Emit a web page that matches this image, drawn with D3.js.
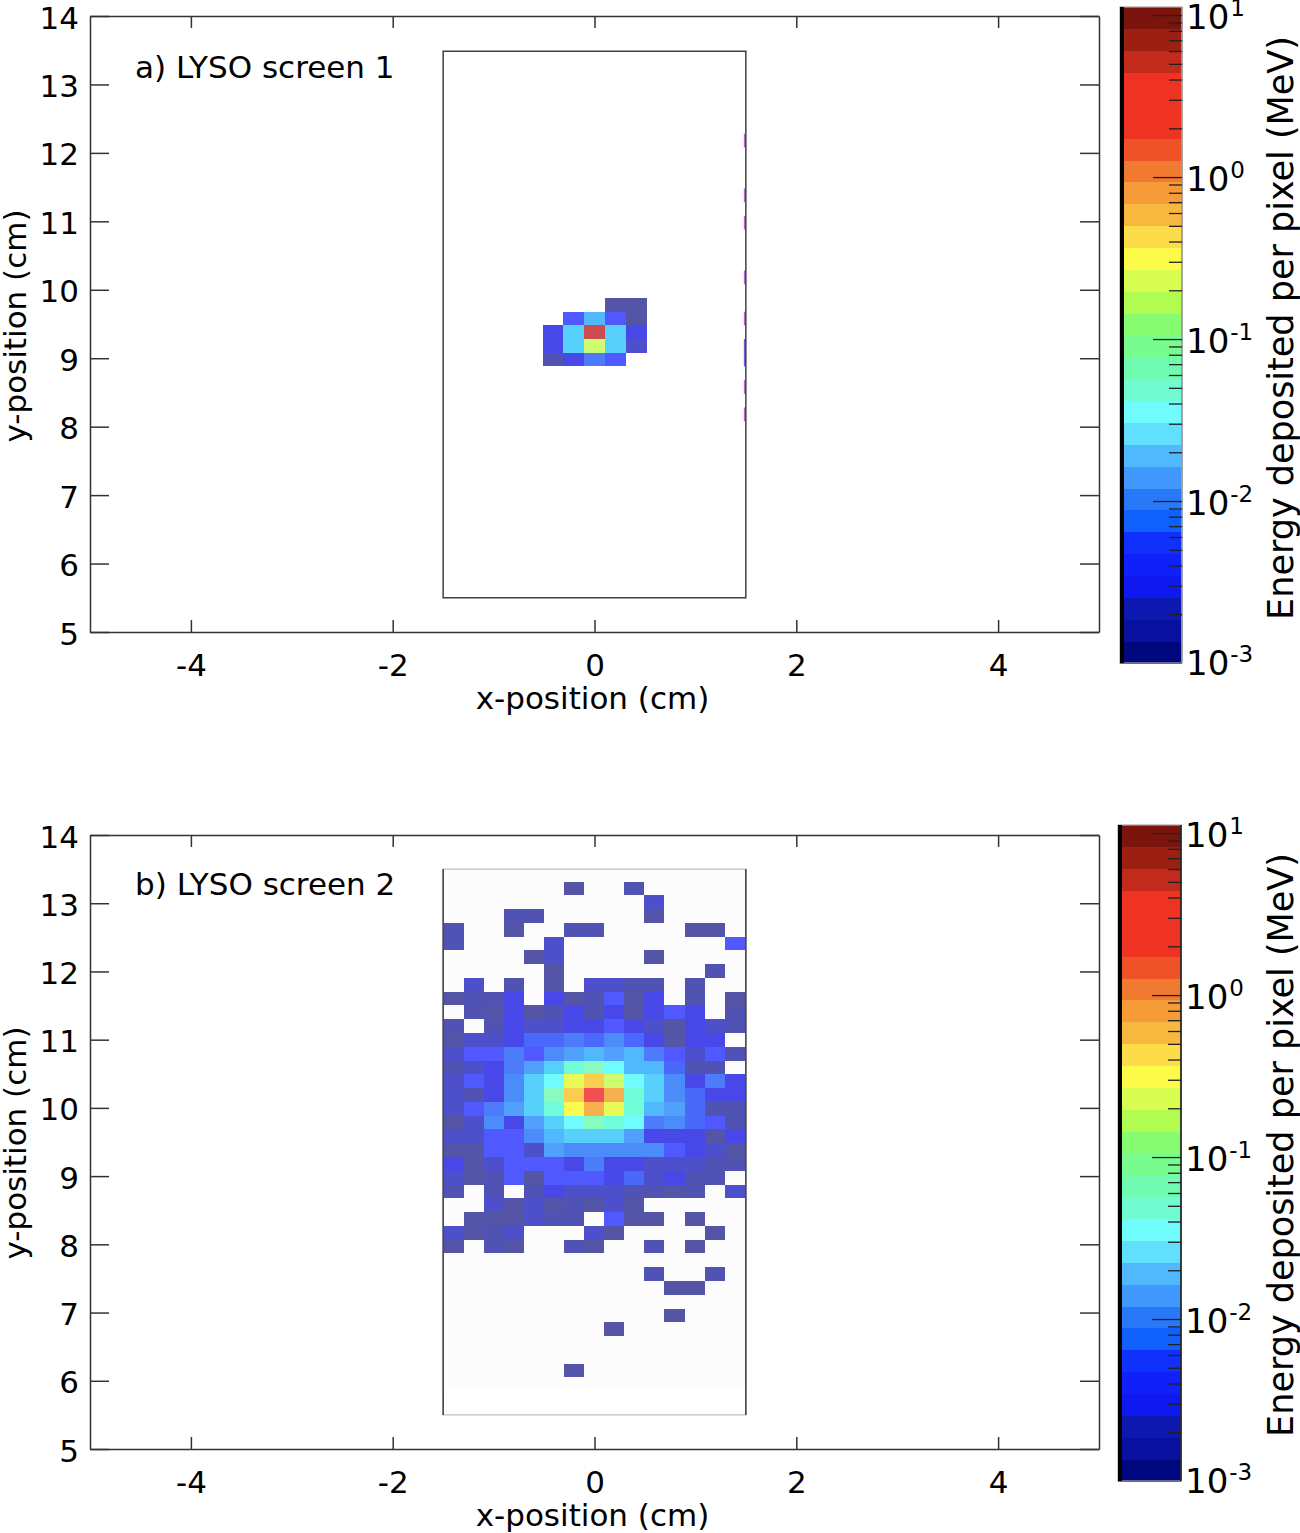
<!DOCTYPE html>
<html>
<head>
<meta charset="utf-8">
<title>LYSO screens</title>
<script src="https://cdn.jsdelivr.net/npm/d3@7"></script>
<style>
	html, body { margin: 0; padding: 0; background: #fff; }
	svg { display: block; }
	text { font-family: "DejaVu Sans", sans-serif; fill: #000; }
	.axis path, .axis line { stroke: #333; stroke-width: 1.5; }
	.axis text { font-size: 31px; font-family: "DejaVu Sans", sans-serif; }
</style>
</head>
<body>
<div id="chart"></div>
<script>
//////////////////////////////
// DATA
//////////////////////////////

const xTicks = [-4, -2, 0, 2, 4]
const yTicks = [5, 6, 7, 8, 9, 10, 11, 12, 13, 14]
const barDecades = [1, 0, -1, -2, -3]

// colour bands of the bar, from 10^-3 upwards
const barColors = ["#000880", "#0810a0", "#0c18b0", "#1018f0", "#1020f8", "#1030fc", "#1060fc", "#2878f8", "#4098fc", "#50b8fc",
	"#60e0fc", "#70fcfc", "#70fcd0", "#70fcb0", "#78fc90", "#88fc70", "#b0fc50", "#d8fc50", "#fcfc48", "#fcdc48",
	"#f8b840", "#f59c38", "#f07a30", "#f05228", "#ee3322", "#ee3322", "#ee3322", "#c22a1c", "#9c2012", "#7a140c"]

// same bands as they come out on the screen pixels (washed out)
const cellColors = ["#5455a6", "#5053b4", "#4d4fcb", "#4848e8", "#5058ff", "#4a68fa", "#4c7cfa", "#4c8cfa", "#50a0fc", "#50b8fc",
	"#58d0fc", "#70fcfc", "#70fcd8", "#88fcc0", "#90fc90", "#a8fc80", "#ccfc70", "#e8fa58", "#fcfc50", "#fadc50",
	"#facc50", "#f6b050", "#f49040", "#f07038", "#f06050", "#f05050", "#e04c50", "#cc4d4f", "#a03020", "#7a140c"]

// energy per pixel in MeV, one row per list, 15 columns
const _ = 0, D = .00117, d = .0016, m = .0022, b = .003, B = .004

const screen1Rows = [18, 19, 20, 21, 22]
const screen1Cols = [5, 6, 7, 8, 9]
const screen1 = [
	[_, _, _, D, D],
	[_, B, .019, B, D],
	[b, .03, 5.2, .03, b],
	[b, .026, .169, .026, m],
	[d, b, .0075, B, _]
]
const screen1EdgeRows = [6, 10, 12, 16, 19, 21, 22, 24, 26]

const screen2 = [
	[_, _, _, _, _, _, _, _, _, _, _, _, _, _, _],
	[_, _, _, _, _, _, D, _, _, d, _, _, _, _, _],
	[_, _, _, _, _, _, _, _, _, _, m, _, _, _, _],
	[_, _, _, d, d, _, _, _, _, _, D, _, _, _, _],
	[d, _, _, D, _, _, d, d, _, _, _, _, D, D, _],
	[d, _, _, _, _, m, _, _, _, _, _, _, _, _, B],
	[_, _, _, _, D, m, _, _, _, _, D, _, _, _, _],
	[_, _, _, _, _, D, _, _, _, _, _, _, _, d, _],
	[_, m, _, d, _, D, _, m, m, d, d, _, d, _, _],
	[D, d, d, b, _, b, D, d, B, D, b, _, d, _, D],
	[_, d, D, b, D, d, b, d, b, D, b, B, b, _, d],
	[d, _, d, b, m, m, b, b, B, b, m, D, b, m, d],
	[D, m, m, b, .0055, .0055, .0075, .0055, .0103, .0055, b, D, b, b, _],
	[m, B, B, .0075, B, .0103, .014, .019, .014, .019, .0075, B, m, B, d],
	[d, m, b, .0075, .014, .026, .049, .066, .036, .019, .019, .0055, d, d, _],
	[m, B, b, .0103, .026, .036, .23, .59, .169, .036, .026, .0103, b, .0075, b],
	[m, d, b, .0103, .026, .066, .59, 2.8, .8, .049, .026, .0103, .0055, b, b],
	[m, B, .0075, .014, .026, .049, .31, .8, .23, .049, .019, .014, .0055, d, d],
	[D, m, .0103, b, .014, .026, .036, .066, .049, .036, .0075, .0103, .0055, B, d],
	[m, m, B, B, .0103, .019, .026, .026, .026, .014, b, b, b, D, b],
	[D, D, B, B, m, .014, .0103, .0103, .0103, .0103, .0103, B, b, m, D],
	[b, D, m, B, B, B, b, .0075, b, b, m, m, m, d, d],
	[m, D, d, B, D, B, B, B, b, .0055, m, b, d, d, _],
	[d, _, d, _, d, b, m, m, m, d, d, D, d, _, m],
	[_, _, m, D, m, D, d, D, m, D, _, _, _, _, _],
	[_, D, D, D, m, d, d, _, B, D, D, _, D, _, _],
	[m, D, d, m, _, _, _, m, D, _, _, _, _, D, _],
	[D, _, d, D, _, _, d, D, _, _, d, _, D, _, _],
	[_, _, _, _, _, _, _, _, _, _, _, _, _, _, _],
	[_, _, _, _, _, _, _, _, _, _, d, _, _, d, _],
	[_, _, _, _, _, _, _, _, _, _, _, D, D, _, _],
	[_, _, _, _, _, _, _, _, _, _, _, _, _, _, _],
	[_, _, _, _, _, _, _, _, _, _, _, D, _, _, _],
	[_, _, _, _, _, _, _, _, D, _, _, _, _, _, _],
	[_, _, _, _, _, _, _, _, _, _, _, _, _, _, _],
	[_, _, _, _, _, _, _, _, _, _, _, _, _, _, _],
	[_, _, _, _, _, _, D, _, _, _, _, _, _, _, _]
]

//////////////////////////////
// PANELS
//////////////////////////////

const width = 1300
const height = 1533
const logMin = -3
const logMax = 1.05

const svg = d3.select("#chart").append("svg").attr("width", width).attr("height", height)

const bandIndex = d3.scaleQuantize().domain([logMin, logMax]).range(d3.range(barColors.length))
const cellFill = (v) => cellColors[bandIndex(Math.log10(v))]

// plain hyphen on the labels, like the original
const plainFormat = (d) => String(d)

const drawAxes = (g, x, y, top, bottom, left, right) => {
	g.append("g").attr("class", "axis").attr("transform", "translate(0," + bottom + ")")
		.call(d3.axisBottom(x).tickValues(xTicks).tickSizeInner(-12).tickSizeOuter(0).tickPadding(22).tickFormat(plainFormat))
	g.append("g").attr("class", "axis").attr("transform", "translate(0," + top + ")")
		.call(d3.axisTop(x).tickValues(xTicks).tickSizeInner(-12).tickSizeOuter(0).tickFormat(""))
	g.append("g").attr("class", "axis").attr("transform", "translate(" + left + ",0)")
		.call(d3.axisLeft(y).tickValues(yTicks).tickSizeInner(-19).tickSizeOuter(0).tickPadding(11).tickFormat(plainFormat))
		.call((a) => a.selectAll("text").attr("dy", ".39em"))
	g.append("g").attr("class", "axis").attr("transform", "translate(" + right + ",0)")
		.call(d3.axisRight(y).tickValues(yTicks).tickSizeInner(-19).tickSizeOuter(0).tickFormat(""))
}

const drawBar = (g, p) => {
	let logY = d3.scaleLinear().domain([logMin, logMax]).range([p.barBottom, p.barTop])
	let step = (logMax - logMin) / barColors.length
	g.selectAll("rect.band").data(barColors).enter().append("rect").attr("class", "band")
		.attr("x", p.barLeft).attr("width", p.barRight - p.barLeft)
		.attr("y", (d, i) => logY(logMin + (i + 1) * step))
		.attr("height", logY(logMin) - logY(logMin + step) + .5)
		.attr("fill", (d) => d)
		.attr("shape-rendering", "crispEdges")

	g.append("rect").attr("x", p.barLeft).attr("y", p.barTop).attr("width", p.barRight - p.barLeft).attr("height", p.barBottom - p.barTop)
		.attr("fill", "none").attr("stroke", "#aaa").attr("stroke-width", 1.2)
	g.append("line").attr("x1", p.barLeft + 2).attr("x2", p.barLeft + 2).attr("y1", p.barTop).attr("y2", p.barBottom)
		.attr("stroke", "#000").attr("stroke-width", 4)
	g.append("line").attr("x1", p.barRight).attr("x2", p.barRight).attr("y1", p.barTop).attr("y2", p.barBottom)
		.attr("stroke", p.barEdge).attr("stroke-width", 1.5)

	let scale = d3.scaleLog().domain([1e-3, Math.pow(10, logMax)]).range([p.barBottom, p.barTop])
	let minor = []
	barDecades.slice(1).forEach((e) => {
		d3.range(2, 10).forEach((k) => minor.push(k * Math.pow(10, e)))
	})
	let major = barDecades.map((e) => Math.pow(10, e))

	g.append("g").attr("transform", "translate(" + p.barRight + ",0)")
		.call(d3.axisLeft(scale).tickValues(minor).tickSize(13).tickFormat(""))
		.call((a) => a.select(".domain").remove())
		.call((a) => a.selectAll("line").attr("stroke", "#222").attr("stroke-width", 1.3))
	g.append("g").attr("transform", "translate(" + p.barRight + ",0)")
		.call(d3.axisLeft(scale).tickValues(major.slice(0, 4)).tickSize(29).tickFormat(""))
		.call((a) => a.select(".domain").remove())
		.call((a) => a.selectAll("line").attr("stroke", "#222").attr("stroke-width", 1.3))

	let labels = g.selectAll("text.decade").data(barDecades).enter().append("text").attr("class", "decade")
		.attr("x", p.barRight + 4)
		.attr("y", (d) => Math.min(scale(Math.pow(10, d)) + 14, p.barBottom + 12))
		.attr("font-size", 34)
	labels.append("tspan").text("10")
	labels.append("tspan").attr("dx", 1).attr("dy", -13).attr("font-size", 23).text((d) => d)

	g.append("text").attr("transform", "translate(1293," + p.titleY + ") rotate(-90)")
		.attr("text-anchor", "middle").attr("font-size", 35).text("Energy deposited per pixel (MeV)")
}

const drawPanel = (p) => {
	let g = svg.append("g")
	let x = d3.scaleLinear().domain([-5, 5]).range([90, 1099])
	let y = d3.scaleLinear().domain([5, 14]).range([p.bottom, p.top])

	if (p.faintTo) {
		g.append("rect").attr("x", x(-1.5)).attr("width", x(1.5) - x(-1.5))
			.attr("y", y(p.screenTop)).attr("height", y(p.faintTo) - y(p.screenTop)).attr("fill", "#fcfcfc")
	}

	let cells = []
	p.grid.forEach((r, i) => {
		r.forEach((v, j) => {
			if (v > 0) cells.push({ row: p.rowOf(i), col: p.colOf(j), value: v })
		})
	})

	let colLeft = (c) => x(p.colStart + c * p.colStep)
	let rowTop = (r) => y(p.rowStart - r * p.rowStep)

	g.selectAll("rect.cell").data(cells).enter().append("rect").attr("class", "cell")
		.attr("x", (d) => colLeft(d.col))
		.attr("y", (d) => rowTop(d.row))
		.attr("width", (d) => colLeft(d.col + 1) - colLeft(d.col))
		.attr("height", (d) => rowTop(d.row + 1) - rowTop(d.row))
		.attr("fill", (d) => cellFill(d.value))
		.attr("shape-rendering", "crispEdges")

	if (p.edgeRows) {
		g.selectAll("rect.edge").data(p.edgeRows).enter().append("rect").attr("class", "edge")
			.attr("x", x(1.5) - 2).attr("width", 1.5)
			.attr("y", (d) => rowTop(d))
			.attr("height", (d) => rowTop(d + 1) - rowTop(d))
			.attr("fill", (d) => (d == 21 || d == 22) ? "#5020c0" : "#a030c0")
			.attr("opacity", .75)
	}

	// screen outline
	g.append("rect").attr("x", x(-1.5)).attr("y", y(p.screenTop)).attr("width", x(1.5) - x(-1.5)).attr("height", y(5.5) - y(p.screenTop))
		.attr("fill", "none").attr("stroke", p.outline).attr("stroke-width", 1.4)
	if (p.sideLines) {
		g.selectAll("line.side").data([-1.5, 1.5]).enter().append("line").attr("class", "side")
			.attr("x1", (d) => x(d)).attr("x2", (d) => x(d)).attr("y1", y(p.screenTop)).attr("y2", y(5.5))
			.attr("stroke", "#333").attr("stroke-width", 1.4)
	}

	drawAxes(g, x, y, p.top, p.bottom, 90, 1099)

	g.append("text").attr("x", 135).attr("y", p.labelY).attr("font-size", 31).text(p.label)
	g.append("text").attr("x", 592.5).attr("y", p.bottom + 77).attr("text-anchor", "middle").attr("font-size", 31).text("x-position (cm)")
	g.append("text").attr("transform", "translate(26," + p.yLabelY + ") rotate(-90)")
		.attr("text-anchor", "middle").attr("font-size", 31).text("y-position (cm)")

	drawBar(g, p)
}

drawPanel({
	top: 16, bottom: 632, label: "a) LYSO screen 1", labelY: 78, yLabelY: 326,
	grid: screen1, rowOf: (i) => screen1Rows[i], colOf: (j) => screen1Cols[j],
	colStart: -1.5445, colStep: .206, rowStart: 13.48, rowStep: .2, screenTop: 13.485,
	edgeRows: screen1EdgeRows, outline: "#333",
	barLeft: 1120, barRight: 1182, barTop: 7, barBottom: 663, barEdge: "#999", titleY: 328
})

drawPanel({
	top: 835, bottom: 1449, label: "b) LYSO screen 2", labelY: 895, yLabelY: 1143,
	grid: screen2, rowOf: (i) => i, colOf: (j) => j,
	colStart: -1.49, colStep: .1985, rowStart: 13.52, rowStep: .2019, screenTop: 13.5,
	faintTo: 5.89, outline: "#c8c4d0", sideLines: true,
	barLeft: 1118, barRight: 1181, barTop: 825, barBottom: 1481, barEdge: "#111", titleY: 1145
})
</script>
</body>
</html>
